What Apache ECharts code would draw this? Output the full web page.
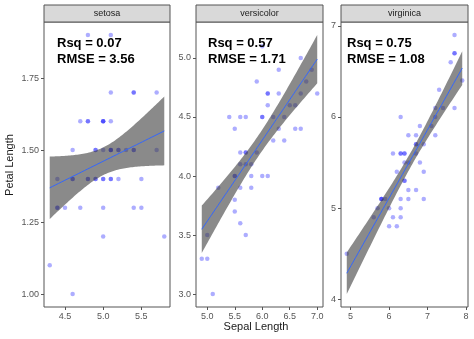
<!DOCTYPE html>
<html>
<head>
<meta charset="utf-8">
<script src="https://cdn.jsdelivr.net/npm/echarts@6/dist/echarts.min.js"></script>
<style>
  html, body { margin: 0; padding: 0; background: #ffffff; }
  #chart { width: 474px; height: 339px; }
</style>
</head>
<body>
<div id="chart"></div>
<script>
// Iris: Petal Length against Sepal Length, one facet per species, with a linear fit
const species = ['setosa', 'versicolor', 'virginica'];

const setosaSepal = [5.1,4.9,4.7,4.6,5.0,5.4,4.6,5.0,4.4,4.9,5.4,4.8,4.8,4.3,5.8,5.7,5.4,5.1,5.7,5.1,5.4,5.1,4.6,5.1,4.8,5.0,5.0,5.2,5.2,4.7,4.8,5.4,5.2,5.5,4.9,5.0,5.5,4.9,4.4,5.1,5.0,4.5,4.4,5.0,5.1,4.8,5.1,4.6,5.3,5.0];
const setosaPetal = [1.4,1.4,1.3,1.5,1.4,1.7,1.4,1.5,1.4,1.5,1.5,1.6,1.4,1.1,1.2,1.5,1.3,1.4,1.7,1.5,1.7,1.5,1.0,1.7,1.9,1.6,1.6,1.5,1.4,1.6,1.6,1.5,1.5,1.4,1.5,1.2,1.3,1.4,1.3,1.5,1.3,1.3,1.3,1.6,1.9,1.4,1.6,1.4,1.5,1.4];

const versicolorSepal = [7.0,6.4,6.9,5.5,6.5,5.7,6.3,4.9,6.6,5.2,5.0,5.9,6.0,6.1,5.6,6.7,5.6,5.8,6.2,5.6,5.9,6.1,6.3,6.1,6.4,6.6,6.8,6.7,6.0,5.7,5.5,5.5,5.8,6.0,5.4,6.0,6.7,6.3,5.6,5.5,5.5,6.1,5.8,5.0,5.6,5.7,5.7,6.2,5.1,5.7];
const versicolorPetal = [4.7,4.5,4.9,4.0,4.6,4.5,4.7,3.3,4.6,3.9,3.5,4.2,4.0,4.7,3.6,4.4,4.5,4.1,4.5,3.9,4.8,4.0,4.9,4.7,4.3,4.4,4.8,5.0,4.5,3.5,3.8,3.7,3.9,5.1,4.5,4.5,4.7,4.4,4.1,4.0,4.4,4.6,4.0,3.3,4.2,4.2,4.2,4.3,3.0,4.1];

const virginicaSepal = [6.3,5.8,7.1,6.3,6.5,7.6,4.9,7.3,6.7,7.2,6.5,6.4,6.8,5.7,5.8,6.4,6.5,7.7,7.7,6.0,6.9,5.6,7.7,6.3,6.7,7.2,6.2,6.1,6.4,7.2,7.4,7.9,6.4,6.3,6.1,7.7,6.3,6.4,6.0,6.9,6.7,6.9,5.8,6.8,6.7,6.7,6.3,6.5,6.2,5.9];
const virginicaPetal = [6.0,5.1,5.9,5.6,5.8,6.6,4.5,6.3,5.8,6.1,5.1,5.3,5.5,5.0,5.1,5.3,5.5,6.7,6.9,5.0,5.7,4.9,6.7,4.9,5.7,6.0,4.8,4.9,5.6,5.8,6.1,6.4,5.6,5.1,5.6,6.1,5.6,5.5,4.8,5.4,5.6,5.1,5.1,5.9,5.7,5.2,5.0,5.2,5.4,5.1];

// Fit statistics printed in each panel
const rsqLabels = ['0.07', '0.57', '0.75'];
const rmseLabels = ['3.56', '1.71', '1.08'];

// Tick positions per panel
const xTicks = [[4.5, 5.0, 5.5], [5.0, 5.5, 6.0, 6.5, 7.0], [5, 6, 7, 8]];
const yTicks = [[1.00, 1.25, 1.50, 1.75], [3.0, 3.5, 4.0, 4.5, 5.0], [4, 5, 6, 7]];
const xDecimals = [1, 1, 0];
const yDecimals = [2, 1, 0];

const sepalSets = [setosaSepal, versicolorSepal, virginicaSepal];
const petalSets = [setosaPetal, versicolorPetal, virginicaPetal];

// Ordinary least squares with a 95% confidence band (80 evaluation points)
function linearFit(xs, ys) {
  const n = xs.length;
  const mx = xs.reduce((a, b) => a + b, 0) / n;
  const my = ys.reduce((a, b) => a + b, 0) / n;
  let sxx = 0, sxy = 0;
  for (let i = 0; i < n; i++) {
    sxx += (xs[i] - mx) * (xs[i] - mx);
    sxy += (xs[i] - mx) * (ys[i] - my);
  }
  const slope = sxy / sxx;
  const intercept = my - slope * mx;
  let rss = 0;
  for (let i = 0; i < n; i++) {
    const r = ys[i] - (intercept + slope * xs[i]);
    rss += r * r;
  }
  const s = Math.sqrt(rss / (n - 2));
  const tCrit = 2.0106; // t(0.975, df = 48)
  const xmin = Math.min(...xs), xmax = Math.max(...xs);
  const fit = [], lower = [], upper = [];
  const steps = 80;
  for (let k = 0; k < steps; k++) {
    const x = xmin + (xmax - xmin) * k / (steps - 1);
    const y = intercept + slope * x;
    const se = s * Math.sqrt(1 / n + (x - mx) * (x - mx) / sxx);
    fit.push([x, y]);
    lower.push([x, y - tCrit * se]);
    upper.push([x, y + tCrit * se]);
  }
  return { fit, lower, upper };
}

function expandRange(lo, hi) {
  const pad = (hi - lo) * 0.05;
  return [lo - pad, hi + pad];
}

const panels = [
  { left: 44, width: 126 },
  { left: 196, width: 127 },
  { left: 341, width: 127 }
];
const panelTop = 22;
const panelHeight = 285;
const stripTop = 5;
const stripHeight = 17;

const fontFamily = '"Liberation Sans", Arial, Helvetica, sans-serif';
const grids = [], xAxes = [], yAxes = [], series = [], graphics = [];

species.forEach((name, i) => {
  const xs = sepalSets[i], ys = petalSets[i];
  const model = linearFit(xs, ys);
  const xr = expandRange(Math.min(...xs), Math.max(...xs));
  const yLo = Math.min(...ys, ...model.lower.map(p => p[1]));
  const yHi = Math.max(...ys, ...model.upper.map(p => p[1]));
  const yr = expandRange(yLo, yHi);

  grids.push({
    left: panels[i].left, top: panelTop, width: panels[i].width, height: panelHeight,
    show: true, borderColor: '#555555', borderWidth: 1, backgroundColor: 'transparent'
  });

  xAxes.push({
    type: 'value', gridIndex: i, min: xr[0], max: xr[1],
    axisLine: { show: false, onZero: false },
    splitLine: { show: false },
    axisTick: { show: true, length: 3, lineStyle: { color: '#555555' }, customValues: xTicks[i] },
    axisLabel: {
      customValues: xTicks[i], color: '#555555', fontSize: 9, margin: 5, fontFamily,
      formatter: v => Number(v).toFixed(xDecimals[i])
    }
  });
  yAxes.push({
    type: 'value', gridIndex: i, min: yr[0], max: yr[1],
    axisLine: { show: false, onZero: false },
    splitLine: { show: false },
    axisTick: { show: true, length: 3, lineStyle: { color: '#555555' }, customValues: yTicks[i] },
    axisLabel: {
      customValues: yTicks[i], color: '#555555', fontSize: 9, margin: 5, fontFamily,
      formatter: v => Number(v).toFixed(yDecimals[i])
    }
  });

  series.push({
    type: 'scatter', xAxisIndex: i, yAxisIndex: i, z: 2,
    data: xs.map((x, k) => [x, ys[k]]),
    symbolSize: 4.5,
    itemStyle: { color: 'rgba(0,0,255,0.4)' },
    silent: true
  });

  const band = model.lower.concat(model.upper.slice().reverse());
  series.push({
    type: 'custom', xAxisIndex: i, yAxisIndex: i, z: 3, silent: true,
    data: [model.fit[0]],
    encode: { x: 0, y: 1 },
    renderItem: (params, api) => ({
      type: 'polygon',
      shape: { points: band.map(p => api.coord(p)) },
      style: { fill: 'rgba(60,60,60,0.6)' }
    })
  });

  series.push({
    type: 'line', xAxisIndex: i, yAxisIndex: i, z: 4, silent: true,
    data: model.fit, showSymbol: false,
    lineStyle: { color: '#3366FF', width: 1 }
  });

  // strip header
  graphics.push({
    type: 'rect', silent: true,
    shape: { x: panels[i].left, y: stripTop, width: panels[i].width, height: stripHeight },
    style: { fill: '#d9d9d9', stroke: '#555555', lineWidth: 1 }
  });
  graphics.push({
    type: 'text', silent: true,
    x: panels[i].left + panels[i].width / 2, y: stripTop + stripHeight / 2,
    style: { text: name, fill: '#1a1a1a', font: '9px ' + fontFamily, align: 'center', verticalAlign: 'middle' }
  });
});

// fit statistics
const statLeft = [57, 208, 347];
species.forEach((name, i) => {
  graphics.push({
    type: 'text', silent: true, z: 10,
    x: statLeft[i], y: 35,
    style: {
      text: 'Rsq = ' + rsqLabels[i] + '\nRMSE = ' + rmseLabels[i],
      fill: '#000000', font: 'bold 13px ' + fontFamily, lineHeight: 16,
      align: 'left', verticalAlign: 'top'
    }
  });
});

// axis titles
graphics.push({
  type: 'text', silent: true,
  x: 256, y: 327,
  style: { text: 'Sepal Length', fill: '#1a1a1a', font: '11px ' + fontFamily, align: 'center', verticalAlign: 'middle' }
});
graphics.push({
  type: 'text', silent: true,
  x: 10, y: 165, rotation: Math.PI / 2,
  style: { text: 'Petal Length', fill: '#1a1a1a', font: '11px ' + fontFamily, align: 'center', verticalAlign: 'middle' }
});

const chart = echarts.init(document.getElementById('chart'), null, { renderer: 'canvas' });
chart.setOption({
  animation: false,
  backgroundColor: '#ffffff',
  grid: grids,
  xAxis: xAxes,
  yAxis: yAxes,
  series: series,
  graphic: graphics
});
</script>
</body>
</html>
